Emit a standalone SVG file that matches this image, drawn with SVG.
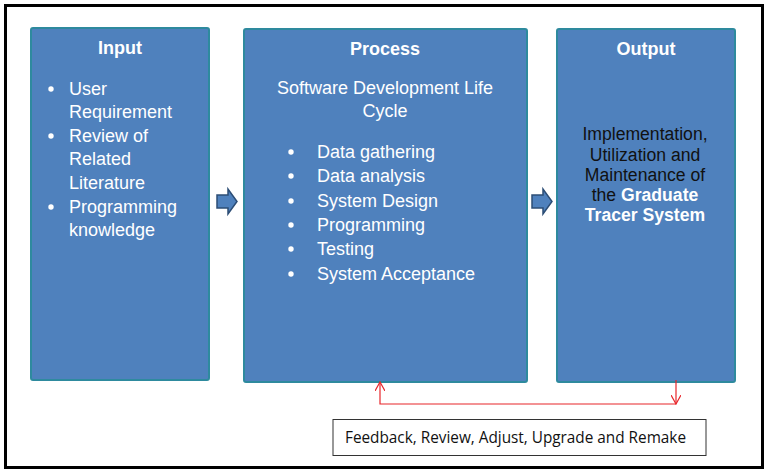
<svg xmlns="http://www.w3.org/2000/svg" width="768" height="475" viewBox="0 0 768 475">
<style>
.box{fill:#4F81BD;stroke:#2E8A9E;stroke-width:2}
.t{font-family:"Liberation Sans",Arial,sans-serif;font-size:18px;fill:#fff}
.h{font-family:"Liberation Sans",Arial,sans-serif;font-size:18px;font-weight:bold;fill:#fff;text-anchor:middle}
.c{text-anchor:middle}
.o{font-size:17.6px}
.k{fill:#111}
.b{font-weight:bold;fill:#fff}
.arr{fill:#4F81BD;stroke:#2C4D75;stroke-width:1.5}
.fb{fill:none;stroke:#E8262B;stroke-width:1.2}
</style>
<defs>
<marker id="m" viewBox="0 0 10 10" refX="9" refY="5" markerWidth="10" markerHeight="10" markerUnits="userSpaceOnUse" orient="auto">
<path d="M0,0 L9,5 L0,10" fill="none" stroke="#E8262B" stroke-width="1.2"/>
</marker>
</defs>
<rect x="0" y="0" width="768" height="475" fill="#fff"/>
<rect x="5.5" y="5.5" width="757" height="462" fill="none" stroke="#000" stroke-width="3"/>
<g id="input">
<rect class="box" x="31" y="28" width="178" height="352" rx="2"/>
<text class="h" x="120" y="54">Input</text>
<g class="t">
<circle cx="51" cy="89" r="2.7" fill="#fff"/>
<circle cx="51" cy="136" r="2.7" fill="#fff"/>
<circle cx="51" cy="207" r="2.7" fill="#fff"/>
<text x="69" y="95">User</text>
<text x="69" y="118">Requirement</text>
<text x="69" y="142">Review of</text>
<text x="69" y="165">Related</text>
<text x="69" y="189">Literature</text>
<text x="69" y="213">Programming</text>
<text x="69" y="236">knowledge</text>
</g>
</g>
<g id="process">
<rect class="box" x="244" y="29" width="283" height="353" rx="2"/>
<text class="h" x="385" y="55">Process</text>
<text class="t c" x="385" y="94">Software Development Life</text>
<text class="t c" x="385" y="117">Cycle</text>
<g class="t">
<circle cx="291" cy="152" r="2.7" fill="#fff"/>
<circle cx="291" cy="176" r="2.7" fill="#fff"/>
<circle cx="291" cy="201" r="2.7" fill="#fff"/>
<circle cx="291" cy="225" r="2.7" fill="#fff"/>
<circle cx="291" cy="249" r="2.7" fill="#fff"/>
<circle cx="291" cy="274" r="2.7" fill="#fff"/>
<text x="317" y="158">Data gathering</text>
<text x="317" y="182">Data analysis</text>
<text x="317" y="207">System Design</text>
<text x="317" y="231">Programming</text>
<text x="317" y="255">Testing</text>
<text x="317" y="280">System Acceptance</text>
</g>
</g>
<g id="output">
<rect class="box" x="557" y="29" width="178" height="353" rx="2"/>
<text class="h" x="646" y="55">Output</text>
<text class="t c o k" x="645" y="140">Implementation,</text>
<text class="t c o k" x="645" y="161">Utilization and</text>
<text class="t c o k" x="645" y="181">Maintenance of</text>
<text class="t c o k" x="645" y="201">the <tspan class="b">Graduate</tspan></text>
<text class="t c o b" x="645" y="221">Tracer System</text>
</g>
<g id="feedback">
<rect x="333" y="419.5" width="373" height="36" fill="#fff" stroke="#333" stroke-width="1"/>
<text x="345" y="443" font-family="'Open Sans','Liberation Sans',sans-serif" font-size="16" fill="#111" textLength="341" lengthAdjust="spacingAndGlyphs">Feedback, Review, Adjust, Upgrade and Remake</text>
</g>
<g id="connectors">
<path class="arr" d="M217,195 L228,195 L228,189 L237,201.5 L228,214 L228,208 L217,208 Z"/>
<path class="arr" d="M532,195 L543,195 L543,189 L552,201.5 L543,214 L543,208 L532,208 Z"/>
<path class="fb" d="M676,404 L380,404 L380,382" marker-end="url(#m)"/>
<path class="fb" d="M676,380 L676,404" marker-end="url(#m)"/>
</g>
</svg>
